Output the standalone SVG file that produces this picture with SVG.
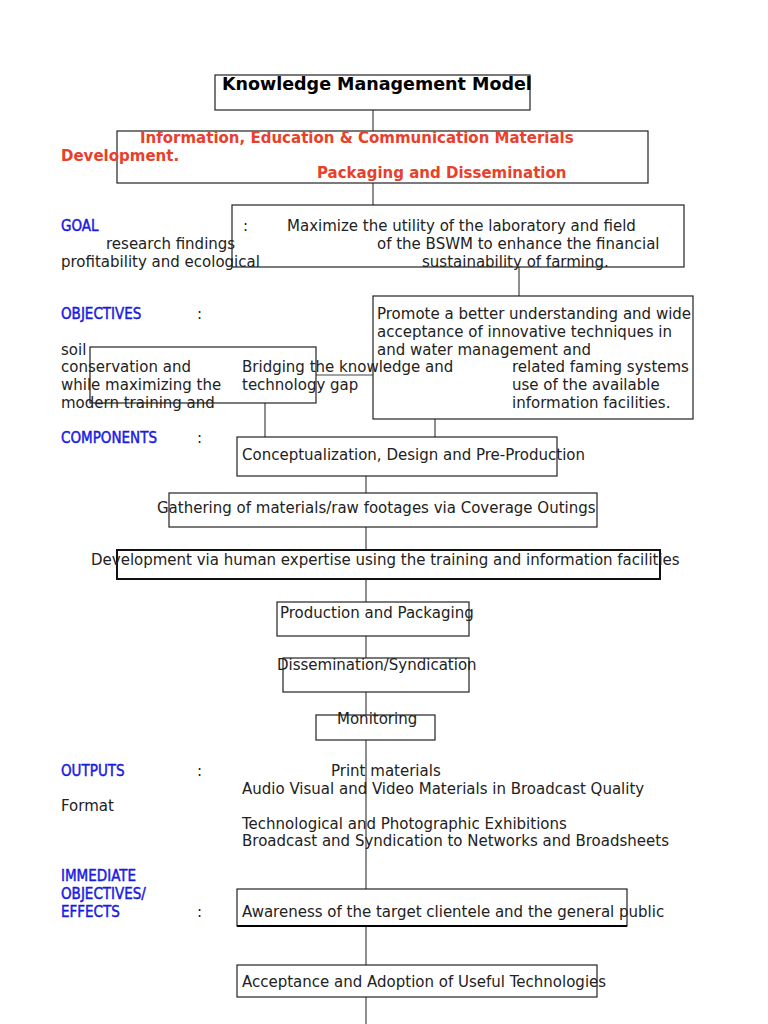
<svg xmlns="http://www.w3.org/2000/svg" width="768" height="1024" viewBox="0 0 768 1024">
<style>
text{font-family:"DejaVu Sans",Verdana,sans-serif;font-size:15px;fill:#222}
.t{font-weight:bold;font-size:17.5px;fill:#000}
.r{font-weight:bold;fill:#e8402a}
.b{fill:#1a1adf;stroke:#1a1adf;stroke-width:0.45;font-family:"DejaVu Sans Condensed","DejaVu Sans",sans-serif;font-size:15px}
.box{fill:none;stroke:#222;stroke-width:1.2}
.thick{fill:none;stroke:#111;stroke-width:2}
.c line{stroke:#444;stroke-width:1.2}
</style>
<rect width="768" height="1024" fill="#fff"/>
<g class="c" id="connectors">
<line x1="373" y1="110" x2="373" y2="131"/>
<line x1="373" y1="183" x2="373" y2="205"/>
<line x1="519" y1="267" x2="519" y2="296"/>
<line x1="316" y1="375" x2="373" y2="375"/>
<line x1="265" y1="403" x2="265" y2="437"/>
<line x1="435" y1="419" x2="435" y2="437"/>
<line x1="366" y1="476" x2="366" y2="493"/>
<line x1="366" y1="527" x2="366" y2="550"/>
<line x1="366" y1="579" x2="366" y2="602"/>
<line x1="366" y1="636" x2="366" y2="658"/>
<line x1="366" y1="692" x2="366" y2="715"/>
<line x1="366" y1="740" x2="366" y2="889"/>
<line x1="366" y1="926" x2="366" y2="965"/>
<line x1="366" y1="997" x2="366" y2="1024"/>
</g>
<g id="title"><rect class="box" x="215" y="75" width="315" height="35"/><text class="t" x="222" y="90">Knowledge Management Model</text></g>
<g id="iec"><rect class="box" x="117" y="131" width="531" height="52"/>
<text class="r" x="140" y="143">Information, Education &amp; Communication Materials</text>
<text class="r" x="61" y="161">Development.</text>
<text class="r" x="317" y="178">Packaging and Dissemination</text></g>
<g id="goal"><rect class="box" x="232" y="205" width="452" height="62"/>
<text class="b" x="61" y="231">GOAL</text><text x="243" y="231">:</text>
<text x="287" y="231">Maximize the utility of the laboratory and field</text>
<text x="106" y="249">research findings</text>
<text x="377" y="249">of the BSWM to enhance the financial</text>
<text x="61" y="267">profitability and ecological</text>
<text x="422" y="267">sustainability of farming.</text></g>
<g id="promote"><rect class="box" x="373" y="296" width="320" height="123"/>
<text x="377" y="319">Promote a better understanding and wide</text>
<text x="377" y="337">acceptance of innovative techniques in</text>
<text x="377" y="355">and water management and</text>
<text x="512" y="372">related faming systems</text>
<text x="512" y="390">use of the available</text>
<text x="512" y="408">information facilities.</text></g>
<g id="objectives-label"><text class="b" x="61" y="319">OBJECTIVES</text><text x="197" y="319">:</text>
<text x="61" y="355">soil</text>
<text x="61" y="372">conservation and</text>
<text x="61" y="390">while maximizing the</text>
<text x="61" y="408">modern training and</text></g>
<g id="bridging"><rect class="box" x="90" y="347" width="226" height="56"/>
<text x="242" y="372">Bridging the knowledge and</text>
<text x="242" y="390">technology gap</text></g>
<g id="components-label"><text class="b" x="61" y="443">COMPONENTS</text><text x="197" y="443">:</text></g>
<g id="concept"><rect class="box" x="237" y="437" width="320" height="39"/><text x="242" y="460">Conceptualization, Design and Pre-Production</text></g>
<g id="gathering"><rect class="box" x="169" y="493" width="428" height="34"/><text x="157" y="513">Gathering of materials/raw footages via Coverage Outings</text></g>
<g id="development"><rect class="thick" x="117" y="550" width="543" height="29"/><text x="91" y="565">Development via human expertise using the training and information facilities</text></g>
<g id="production"><rect class="box" x="277" y="602" width="192" height="34"/><text x="280" y="618">Production and Packaging</text></g>
<g id="dissemination"><rect class="box" x="283" y="658" width="186" height="34"/><text x="277" y="670">Dissemination/Syndication</text></g>
<g id="monitoring"><rect class="box" x="316" y="715" width="119" height="25"/><text x="337" y="724">Monitoring</text></g>
<g id="outputs"><text class="b" x="61" y="776">OUTPUTS</text><text x="197" y="776">:</text>
<text x="331" y="776">Print materials</text>
<text x="242" y="794">Audio Visual and Video Materials in Broadcast Quality</text>
<text x="61" y="811">Format</text>
<text x="242" y="829">Technological and Photographic Exhibitions</text>
<text x="242" y="846">Broadcast and Syndication to Networks and Broadsheets</text></g>
<g id="effects-label"><text class="b" x="61" y="881">IMMEDIATE</text><text class="b" x="61" y="899">OBJECTIVES/</text><text class="b" x="61" y="917">EFFECTS</text><text x="197" y="917">:</text></g>
<g id="awareness"><rect class="box" x="237" y="889" width="390" height="37"/><line x1="237" y1="926" x2="627" y2="926" stroke="#000" stroke-width="2"/><text x="242" y="917">Awareness of the target clientele and the general public</text></g>
<g id="acceptance"><rect class="box" x="237" y="965" width="360" height="32"/><text x="242" y="987">Acceptance and Adoption of Useful Technologies</text></g>
</svg>
